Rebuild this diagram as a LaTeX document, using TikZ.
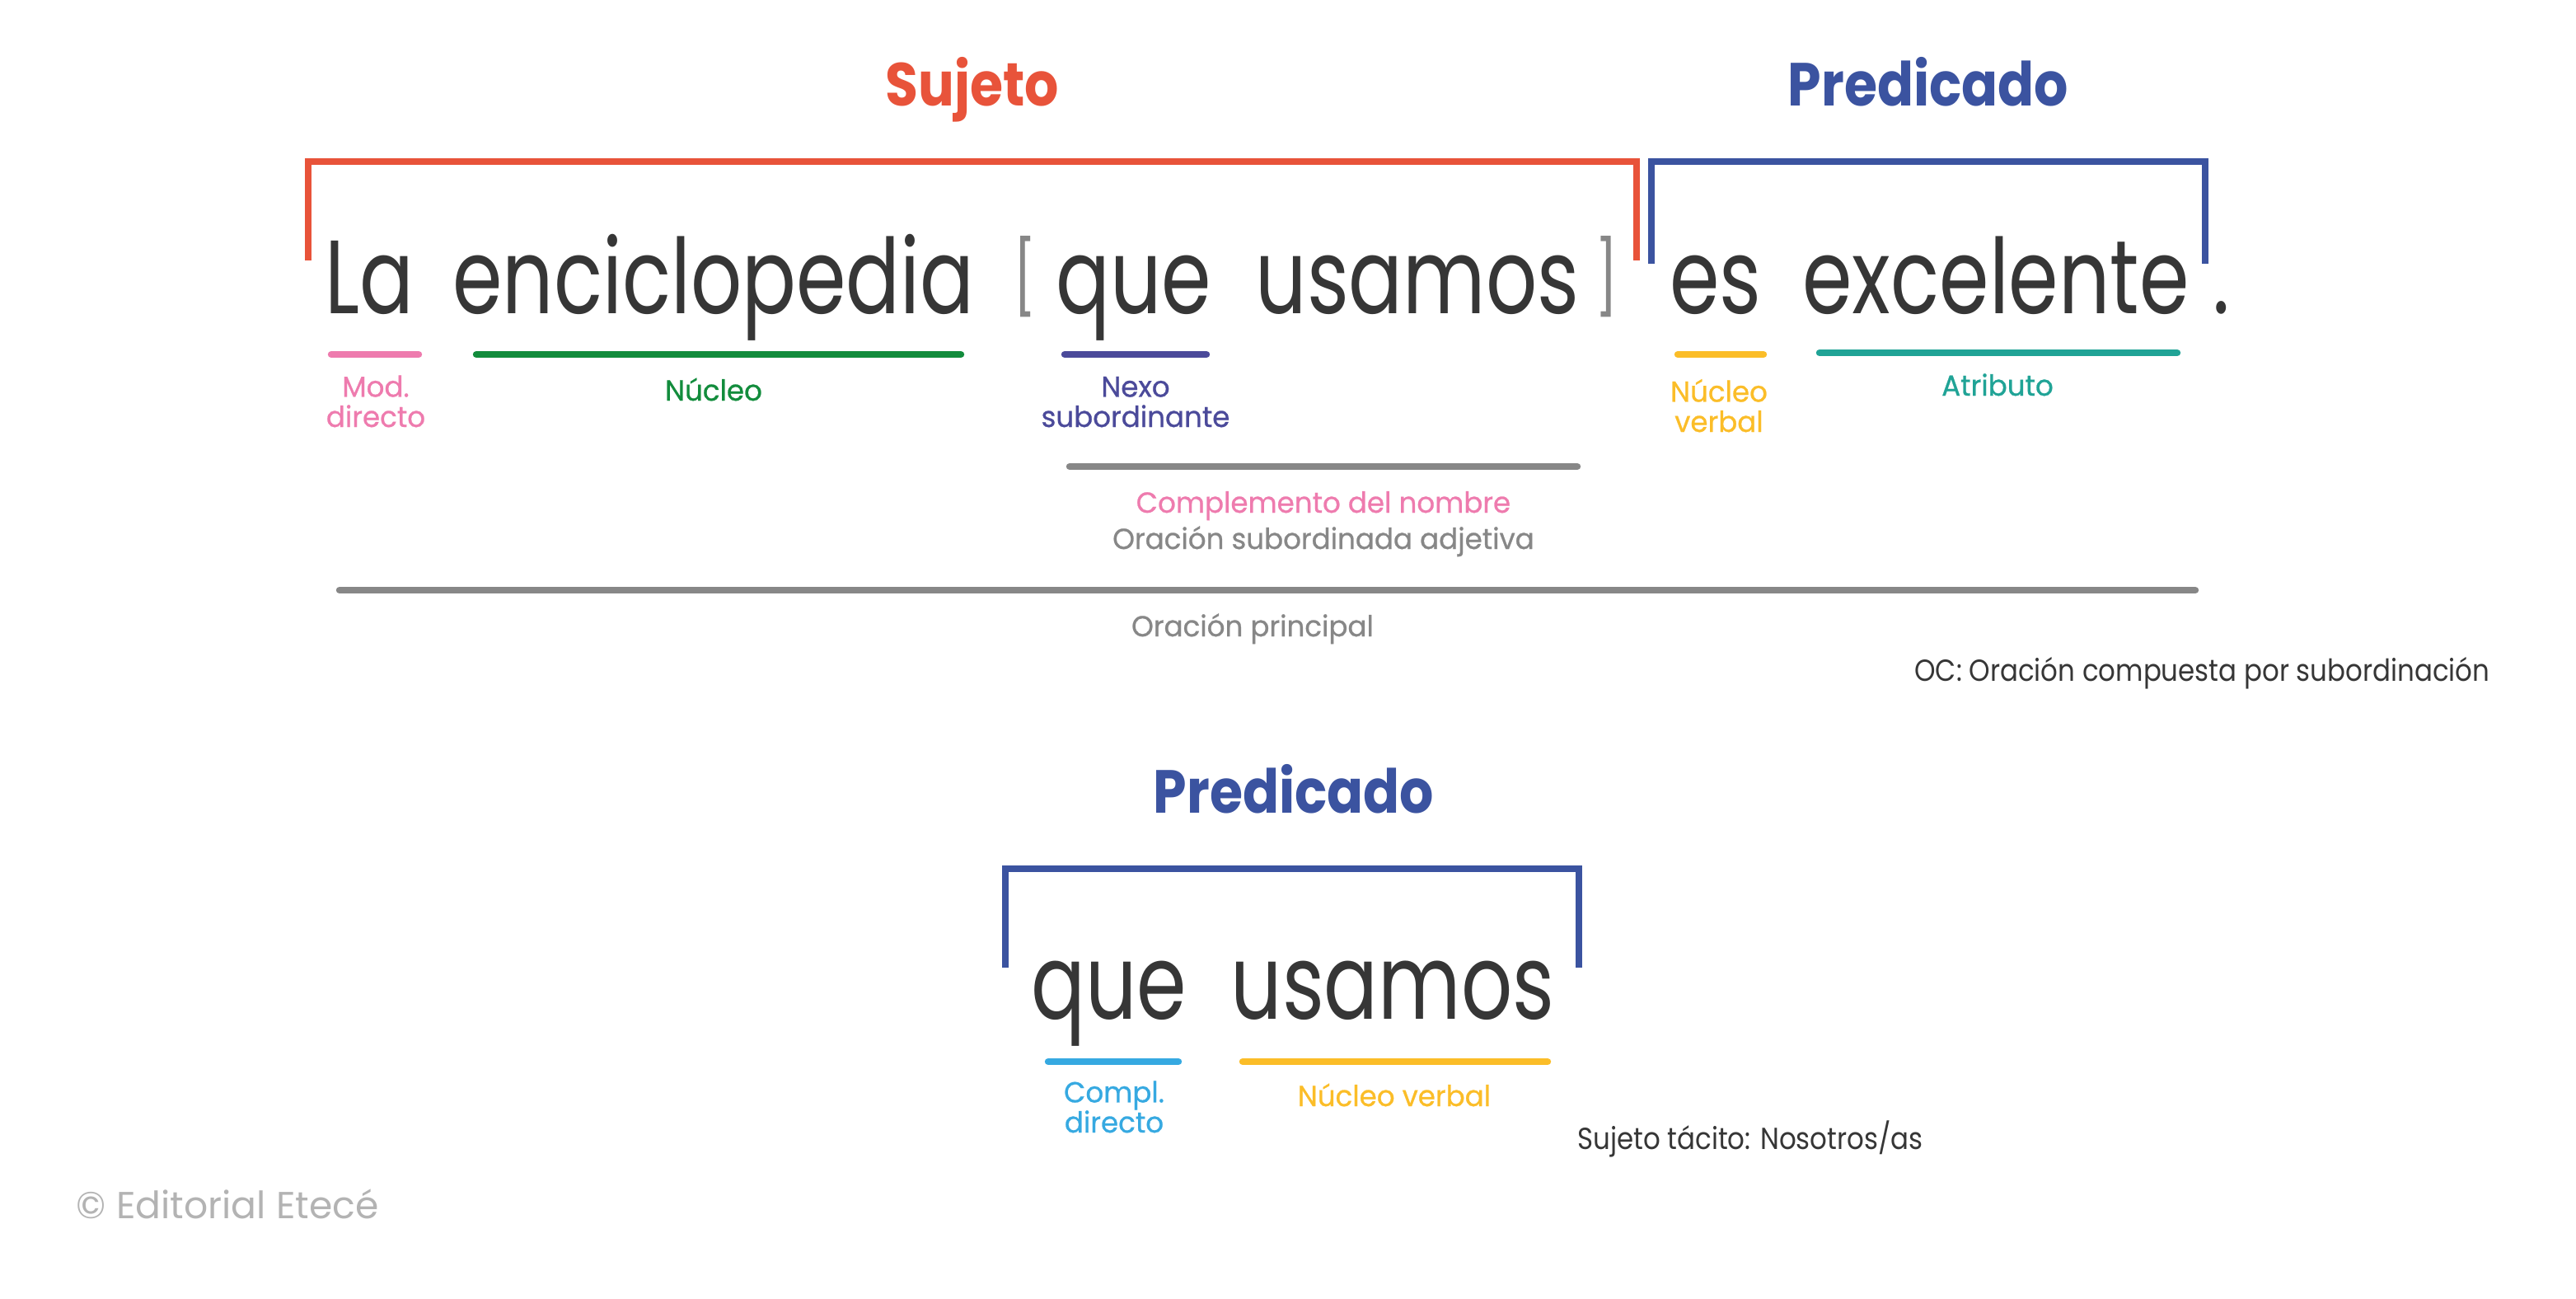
\documentclass[tikz,border=0pt]{standalone}
\usepackage{fontspec}
\setmainfont{Poppins}
\newfontfamily\wordfont[FakeStretch=0.77]{Poppins}
\newfontfamily\titlefont[FakeStretch=0.88]{Poppins}
\newfontfamily\tagfont[FakeStretch=0.97,FakeBold=0.7]{Poppins}
\usepackage{xcolor}
\definecolor{sujred}{HTML}{E8533A}
\definecolor{predblue}{HTML}{3B53A0}
\definecolor{modpink}{HTML}{EE7BAE}
\definecolor{nucgreen}{HTML}{128C3C}
\definecolor{nexopurple}{HTML}{4B4A9A}
\definecolor{verbyellow}{HTML}{FBBD28}
\definecolor{attrteal}{HTML}{20A396}
\definecolor{cdblue}{HTML}{36A9E1}
\definecolor{linegray}{HTML}{878787}
\definecolor{wordgray}{HTML}{363636}
\definecolor{copygray}{HTML}{B3B3B3}

\begin{document}
\begin{tikzpicture}[
    x=0.02cm, y=-0.02cm,
    word/.style={text=wordgray, font=\wordfont\fontsize{36}{36}\selectfont, inner sep=0pt, anchor=base},
    sqbr/.style={text=linegray, font=\wordfont\fontsize{25}{25}\selectfont, inner sep=0pt, anchor=base},
    title/.style={font=\titlefont\bfseries\fontsize{21}{24}\selectfont, inner sep=0pt, anchor=base},
    tag/.style={font=\tagfont\fontsize{10}{10.4}\selectfont, align=center, inner sep=0pt, anchor=base},
    note/.style={text=wordgray, font=\titlefont\fontsize{10.5}{12}\selectfont, inner sep=0pt, anchor=base},
    bar/.style={line width=2.4pt, line cap=round},
    brace/.style={line width=2.2pt, line join=miter}
]
    \useasboundingbox (0,0) rectangle (1563,787.5);

    % Titles
    \node[title, text=sujred] (sujeto) at (590,64) {Sujeto};
    \node[title, text=predblue] (predicado) at (1170,64) {Predicado};

    % Brackets
    \draw[brace, sujred] (187,158) |- (993,98) -- (993,158);
    \draw[brace, predblue] (1002,160) |- (1338,98) -- (1338,160);

    % Sentence
    \node[word] (la) at (224,190) {La};
    \node[word] (encic) at (433,190) {enciclopedia};
    \node[sqbr] (open) at (622,184) {[};
    \node[word] (que) at (688,190) {que};
    \node[word] (usamos) at (860,190) {usamos};
    \node[sqbr] (close) at (975,184) {]};
    \node[word] (es) at (1041,190) {es};
    \node[word] (excel) at (1211,190) {excelente};
    \node[word] (dot) at (1348,190) {.};

    % Underlines
    \draw[bar, modpink] (201,215) -- (254,215);
    \draw[bar, nucgreen] (289,215) -- (583,215);
    \draw[bar, nexopurple] (646,215) -- (732,215);
    \draw[bar, verbyellow] (1018,215) -- (1070,215);
    \draw[bar, attrteal] (1104,214) -- (1321,214);

    % Labels
    \node[tag, text=modpink] (mod) at (228,259) {Mod.\\directo};
    \node[tag, text=nucgreen] (nucleo) at (433,243) {Núcleo};
    \node[tag, text=nexopurple] (nexo) at (689,259) {Nexo\\subordinante};
    \node[tag, text=verbyellow] (nverb) at (1043,262) {Núcleo\\verbal};
    \node[tag, text=attrteal] (atrib) at (1212,240) {Atributo};

    % Subordinate clause
    \draw[bar, linegray] (649,283) -- (957,283);
    \node[tag, text=modpink] (cnombre) at (803,311) {Complemento del nombre};
    \node[tag, text=linegray] (osub) at (803,333) {Oración subordinada adjetiva};

    % Main clause
    \draw[bar, linegray] (206,358) -- (1332,358);
    \node[tag, text=linegray] (oprin) at (760,386) {Oración principal};
    \node[note, anchor=base east] (oc) at (1511,413) {OC: Oración compuesta por subordinación};

    % Second sentence
    \node[title, text=predblue] (predicado2) at (785,493) {Predicado};
    \draw[brace, predblue] (610,587) |- (958,527) -- (958,587);
    \node[word] (que2) at (673,618) {que};
    \node[word] (usamos2) at (845,618) {usamos};
    \draw[bar, cdblue] (636,644) -- (715,644);
    \draw[bar, verbyellow] (754,644) -- (939,644);
    \node[tag, text=cdblue] (cdir) at (676,687) {Compl.\\directo};
    \node[tag, text=verbyellow] (nverb2) at (846,671) {Núcleo verbal};
    \node[note] (tacito) at (1062,697) {Sujeto tácito: Nosotros/as};

    % Credit
    \node[note, text=copygray, font=\fontsize{13}{14}\selectfont, anchor=base west] (credit) at (46,739) {© Editorial Etecé};
\end{tikzpicture}
\end{document}
